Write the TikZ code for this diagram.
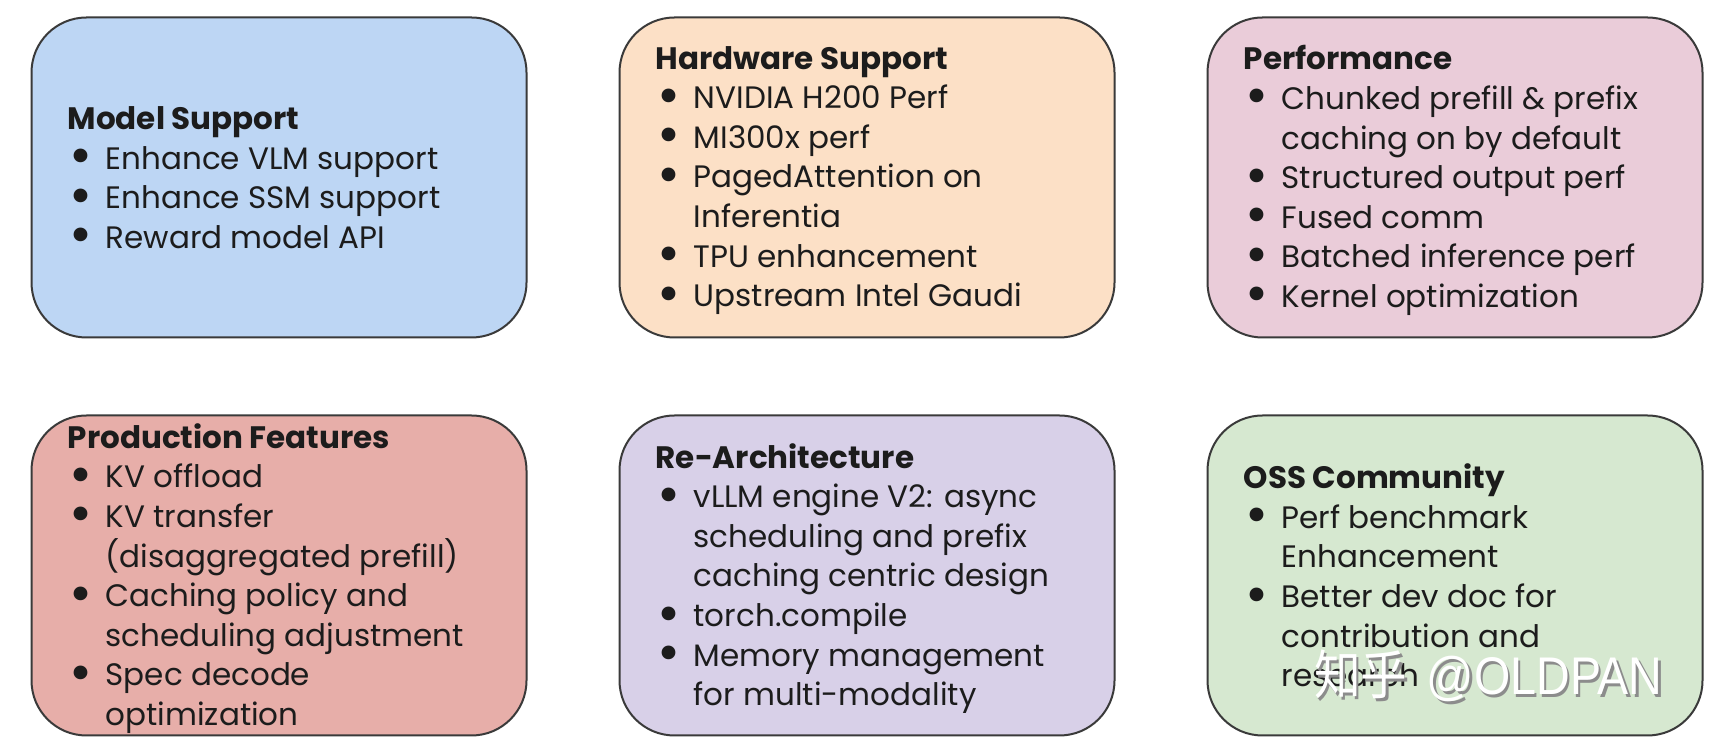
\documentclass[tikz,border=0pt]{standalone}
\usepackage{fontspec}
\usepackage{graphicx}
\setmainfont{Poppins}
\newfontfamily\cjkfont{Noto Sans CJK SC}
\newfontfamily\markfont{Liberation Sans}
\usetikzlibrary{positioning}

\definecolor{cardline}{HTML}{3A3A3A}
\definecolor{inktext}{HTML}{1C1C1C}
\definecolor{modelblue}{HTML}{BDD6F4}
\definecolor{hwpeach}{HTML}{FCE0C6}
\definecolor{perfpink}{HTML}{EACCD9}
\definecolor{prodred}{HTML}{E7AEA9}
\definecolor{archlilac}{HTML}{D8D0E8}
\definecolor{ossgreen}{HTML}{D6E8D0}

\newcommand{\bul}{\makebox[38pt][l]{\hspace{2pt}\smash{\raisebox{-5.5pt}{\scalebox{1.8}{\textbullet}}}}}
\newcommand{\ind}{\hspace*{38pt}}

\tikzset{
  card/.style={draw=cardline,line width=2pt,rounded corners=55pt,
    minimum width=495pt,minimum height=320pt,inner sep=0pt},
  cardtext/.style={anchor=west,align=left,inner sep=0pt,text=inktext,
    font=\fontsize{31}{39.6}\selectfont},
}

\begin{document}
\begin{tikzpicture}[x=1pt,y=1pt,node distance=76pt and 91pt]
  \useasboundingbox[fill=white](0,0)rectangle(1726,746);
  % first row
  \node[card,fill=modelblue](model)at(279,568.5){};
  \node[card,fill=hwpeach,right=of model](hardware){};
  \node[card,fill=perfpink,right=of hardware](perf){};
  % second row
  \node[card,fill=prodred,below=of model](prod){};
  \node[card,fill=archlilac,below=of hardware](rearch){};
  \node[card,fill=ossgreen,below=of perf](oss){};

  \node[cardtext](model-txt)at([xshift=37pt]model.west){%
    \textbf{Model Support}\\
    \bul Enhance VLM support\\
    \bul Enhance SSM support\\
    \bul Reward model API};
  \node[cardtext](hardware-txt)at([xshift=37pt,yshift=-3pt]hardware.west){%
    \textbf{Hardware Support}\\
    \bul NVIDIA H200 Perf\\
    \bul MI300x perf\\
    \bul PagedAttention on\\
    \ind Inferentia\\
    \bul TPU enhancement\\
    \bul Upstream Intel Gaudi};
  \node[cardtext](perf-txt)at([xshift=37pt,yshift=-3pt]perf.west){%
    \textbf{Performance}\\
    \bul Chunked prefill \& prefix\\
    \ind caching on by default\\
    \bul Structured output perf\\
    \bul Fused comm\\
    \bul Batched inference perf\\
    \bul Kernel optimization};
  \node[cardtext](prod-txt)at([xshift=37pt,yshift=-3pt]prod.west){%
    \textbf{Production Features}\\
    \bul KV offload\\
    \bul KV transfer\\
    \ind (disaggregated prefill)\\
    \bul Caching policy and\\
    \ind scheduling adjustment\\
    \bul Spec decode\\
    \ind optimization};
  \node[cardtext](rearch-txt)at([xshift=37pt,yshift=-3pt]rearch.west){%
    \textbf{Re-Architecture}\\
    \bul vLLM engine V2: async\\
    \ind scheduling and prefix\\
    \ind caching centric design\\
    \bul torch.compile\\
    \bul Memory management\\
    \ind for multi-modality};
  \node[cardtext](oss-txt)at([xshift=37pt]oss.west){%
    \textbf{OSS Community}\\
    \bul Perf benchmark\\
    \ind Enhancement\\
    \bul Better dev doc for\\
    \ind contribution and\\
    \ind research};

  % watermark
  \node[anchor=base west,inner sep=0pt,text=black!45](mark-shadow)at(1316.5,48.5)
    {\scalebox{0.88}[1]{\fontsize{53}{53}\selectfont{\cjkfont 知乎}\hspace{22pt}{\markfont @OLDPAN}}};
  \node[anchor=base west,inner sep=0pt,text=white](mark)at(1314,51)
    {\scalebox{0.88}[1]{\fontsize{53}{53}\selectfont{\cjkfont 知乎}\hspace{22pt}{\markfont @OLDPAN}}};
\end{tikzpicture}
\end{document}
